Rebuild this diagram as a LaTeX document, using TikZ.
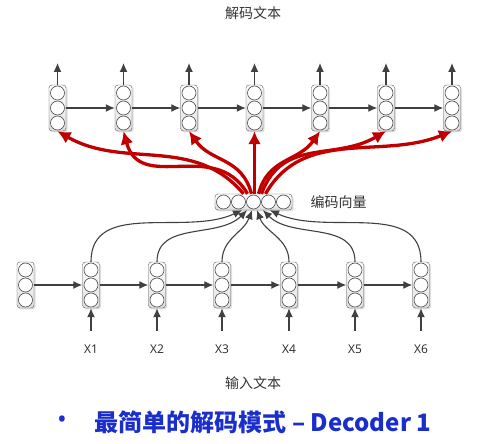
\documentclass[tikz,border=0pt]{standalone}
\usepackage{fontspec}
\setmainfont{Open Sans}
\newfontfamily\cjk{Noto Sans CJK SC}
\usetikzlibrary{arrows.meta,shadows}
\definecolor{arrowgray}{HTML}{404040}
\definecolor{codered}{HTML}{C00000}
\definecolor{titleblue}{HTML}{1A2ECC}
\tikzset{
  cell/.style={draw=black!65, rounded corners=3pt, minimum width=17pt, minimum height=46pt,
    inner sep=0pt, top color=white, bottom color=black!12,
    drop shadow={shadow xshift=1.5pt, shadow yshift=-1.5pt, opacity=.25}},
  vecbox/.style={cell, minimum width=77pt, minimum height=16pt},
  ring/.style={draw=black!70, fill=white, line width=.6pt},
  darrow/.style={draw=arrowgray, line width=1.3pt, -{Latex[length=9pt,width=8pt]}},
  redarrow/.style={draw=codered, line width=3.3pt, -{Latex[length=13pt,width=13pt]}},
  cnlabel/.style={font=\cjk\fontsize{14}{14}\selectfont, text=black!80}
}
\begin{document}
\begin{tikzpicture}[x=1pt,y=1pt]
  \useasboundingbox (0,0) rectangle (485,444);
  % texts
  \node [cnlabel] (outtext) at (253,431) {解码文本};
  \node [cnlabel] (intext) at (253,61) {输入文本};
  % decoder
  \foreach \i/\x in {1/57.5,2/123.5,3/189,4/254.5,5/320,6/386,7/452} {
    \node [cell] (d\i) at (\x,336) {};
    \foreach \k in {-15,0,15}
      \draw [ring] ([yshift=\k pt]d\i.center) circle (7);
    \coordinate (o\i) at (\x,381);
    \draw [darrow] (d\i.north) -- (o\i);
  }
  \foreach \i [count=\j from 2] in {1,...,6}
    \draw [darrow] (d\i) -- (d\j);
  % encoder vector
  \node [vecbox] (v) at (253.5,242) {};
  \foreach \k in {-30,-15,0,15,30}
    \draw [ring] ([xshift=\k pt]v.center) circle (7);
  \node [cnlabel, anchor=west] (vlabel) at (307,242) {编码向量};
  % encoder
  \node [cell] (e0) at (25.5,159) {};
  \foreach \k in {-15,0,15}
    \draw [ring] ([yshift=\k pt]e0.center) circle (7);
  \foreach \i/\x in {1/91,2/157,3/222,4/289,5/355,6/421} {
    \node [cell] (e\i) at (\x,159) {};
    \foreach \k in {-15,0,15}
      \draw [ring] ([yshift=\k pt]e\i.center) circle (7);
    \coordinate (in\i) at (\x,113);
    \draw [darrow] (in\i) -- (e\i.south);
    \node [font=\fontsize{12}{12}\selectfont, text=black!85] (x\i) at (\x,95) {X\i};
  }
  \foreach \i [count=\j from 1] in {0,...,5}
    \draw [darrow] (e\i) -- (e\j);
  % encoder to vector
  \foreach \i/\dx/\n in {1/-11.5/-155,2/-6.5/-135,3/-1.5/-110,4/3.5/-70,5/9.5/-45,6/16.5/-25}
    \draw [darrow, line width=1.1pt] (e\i.north) to[out=90,in=\n] ([xshift=\dx pt]v.south);
  % vector to decoder
  \foreach \i/\dx/\o/\n/\l in {1/-10/130/-30/1,2/-6/120/-75/1.2,3/-2/105/-55/1.1,4/1/90/-90/1,5/5/75/-125/1.1,6/8/70/-150/1.1,7/12/60/-158/1}
    \draw [redarrow] ([xshift=\dx pt]v.north) to[out=\o,in=\n,looseness=\l] (d\i.south);
  % caption
  \node [text=titleblue, font=\fontsize{26}{26}\selectfont] (bullet) at (62,22) {•};
  \node [anchor=west, text=titleblue, font=\cjk\bfseries\fontsize{24}{24}\selectfont] (caption) at (91,22) {最简单的解码模式 – Decoder 1};
\end{tikzpicture}
\end{document}
